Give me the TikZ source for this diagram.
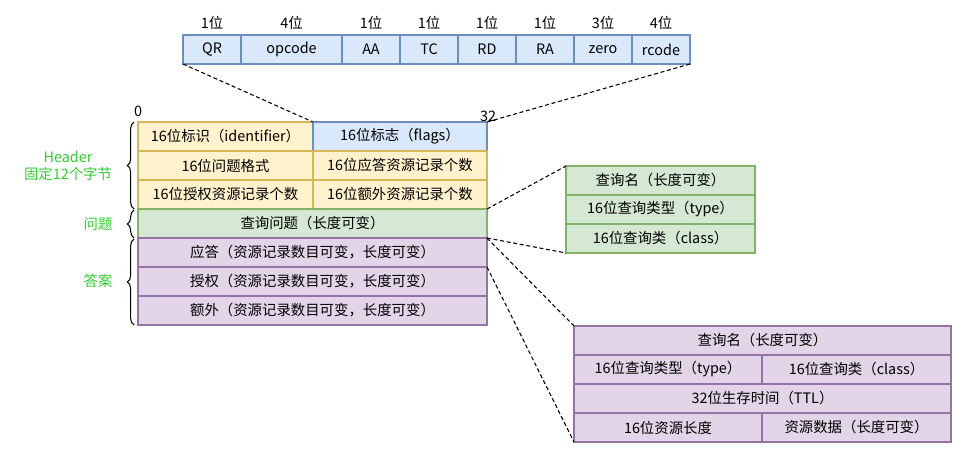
\documentclass[tikz,border=0pt]{standalone}
\usepackage{fontspec}
\setmainfont{Noto Sans CJK SC}
\usetikzlibrary{decorations.pathreplacing}
\definecolor{yf}{HTML}{FFF2CC}\definecolor{ys}{HTML}{D6B656}
\definecolor{bf}{HTML}{DAE8FC}\definecolor{bs}{HTML}{6C8EBF}
\definecolor{gf}{HTML}{D5E8D4}\definecolor{gs}{HTML}{82B366}
\definecolor{pf}{HTML}{E1D5E7}\definecolor{ps}{HTML}{9673A6}
\definecolor{lg}{HTML}{33CC33}
\begin{document}
\begin{tikzpicture}[x=0.75pt,y=-0.75pt,font=\fontsize{10.8}{12.5}\selectfont,
 cell/.style={draw,line width=0.8pt},
 dl/.style={dash pattern=on 3pt off 2pt,line width=0.8pt},
 lab/.style={text=lg,align=center}]
\useasboundingbox (0,0) rectangle (961,453);
\newcommand\cellbox[7]{\path[cell,fill=#1,draw=#2] (#3,#4) rectangle (#5,#6) node[midway,text=black]{#7};}
% top bits
\foreach \a/\b/\t/\n in {183/241/QR/1位,241/342/opcode/4位,342/400/AA/1位,400/458/TC/1位,458/516/RD/1位,516/574/RA/1位,574/632/zero/3位,632/690/rcode/4位}{
 \cellbox{bf}{bs}{\a}{35}{\b}{64}{\t}
 \node at ({(\a+\b)/2},23) {\n};}
% main
\cellbox{yf}{ys}{138}{122}{313}{151}{16位标识（identifier）}
\cellbox{bf}{bs}{313}{122}{487}{151}{16位标志（flags）}
\cellbox{yf}{ys}{138}{151}{313}{180}{16位问题格式}
\cellbox{yf}{ys}{313}{151}{487}{180}{16位应答资源记录个数}
\cellbox{yf}{ys}{138}{180}{313}{209}{16位授权资源记录个数}
\cellbox{yf}{ys}{313}{180}{487}{209}{16位额外资源记录个数}
\cellbox{gf}{gs}{138}{209}{487}{238}{查询问题（长度可变）}
\cellbox{pf}{ps}{138}{238}{487}{267}{应答（资源记录数目可变，长度可变）}
\cellbox{pf}{ps}{138}{267}{487}{296}{授权（资源记录数目可变，长度可变）}
\cellbox{pf}{ps}{138}{296}{487}{325}{额外（资源记录数目可变，长度可变）}
\node at (138,111) {0};
\node at (488,116) {32};
% braces
\draw[line width=0.8pt,decorate,decoration={brace,amplitude=5pt}] (134,209) -- (134,122);
\draw[line width=0.8pt,decorate,decoration={brace,amplitude=5pt}] (134,238) -- (134,210);
\draw[line width=0.8pt,decorate,decoration={brace,amplitude=5pt}] (134,325) -- (134,239);
\node[lab] at (68,166) {Header\\固定12个字节};
\node[lab] at (98,224) {问题};
\node[lab] at (98,281) {答案};
% right box 1
\cellbox{gf}{gs}{566}{166}{755}{195}{查询名（长度可变）}
\cellbox{gf}{gs}{566}{195}{755}{224}{16位查询类型（type）}
\cellbox{gf}{gs}{566}{224}{755}{253}{16位查询类（class）}
% right box 2
\cellbox{pf}{ps}{574}{326}{951}{355}{查询名（长度可变）}
\cellbox{pf}{ps}{574}{355}{762}{384}{16位查询类型（type）}
\cellbox{pf}{ps}{762}{355}{951}{384}{16位查询类（class）}
\cellbox{pf}{ps}{574}{384}{951}{413}{32位生存时间（TTL）}
\cellbox{pf}{ps}{574}{413}{762}{442}{16位资源长度}
\cellbox{pf}{ps}{762}{413}{951}{442}{资源数据（长度可变）}
% dashed
\draw[dl] (183,64) -- (313,122);
\draw[dl] (690,64) -- (487,122);
\draw[dl] (487,209) -- (566,166);
\draw[dl] (487,238) -- (566,253);
\draw[dl] (487,238) -- (574,326);
\draw[dl] (487,267) -- (574,442);
\end{tikzpicture}
\end{document}
